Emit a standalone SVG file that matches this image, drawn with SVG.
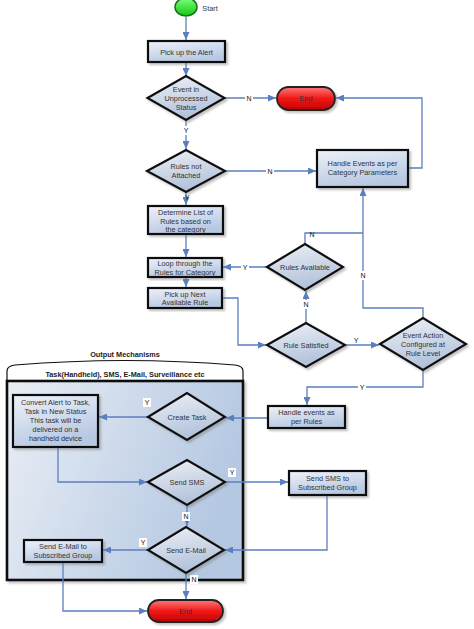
<svg xmlns="http://www.w3.org/2000/svg" width="474" height="629" viewBox="0 0 474 629">
<defs>
<linearGradient id="gBox" x1="0" y1="0" x2="0.4" y2="1">
<stop offset="0" stop-color="#eef2fa"/><stop offset="1" stop-color="#b7c8e2"/>
</linearGradient>
<linearGradient id="gDia" x1="0" y1="0" x2="0.3" y2="1">
<stop offset="0" stop-color="#eef1f7"/><stop offset="1" stop-color="#b2c2da"/>
</linearGradient>
<linearGradient id="gRed" x1="0" y1="0" x2="0" y2="1">
<stop offset="0" stop-color="#ff7a7a"/><stop offset="0.5" stop-color="#f01818"/><stop offset="1" stop-color="#c00000"/>
</linearGradient>
<linearGradient id="gGreen" x1="0" y1="0" x2="0" y2="1">
<stop offset="0" stop-color="#7dff7d"/><stop offset="1" stop-color="#12c812"/>
</linearGradient>
<linearGradient id="gCont" x1="0" y1="0" x2="1" y2="0.3">
<stop offset="0" stop-color="#e9eef5"/><stop offset="1" stop-color="#b5c8e2"/>
</linearGradient>
<filter id="sh" x="-20%" y="-20%" width="140%" height="140%">
<feDropShadow dx="2" dy="2" stdDeviation="1.2" flood-color="#777" flood-opacity="0.45"/>
</filter>
<marker id="ar" markerUnits="userSpaceOnUse" markerWidth="8" markerHeight="7" refX="8" refY="3.5" orient="auto">
<path d="M0,0 L8,3.5 L0,7 Z" fill="#5b7fbe"/>
</marker>
<style>
.box{fill:url(#gBox);stroke:#111;stroke-width:2.2;filter:url(#sh)}
.dia{fill:url(#gDia);stroke:#111;stroke-width:2.2;filter:url(#sh)}
.end{fill:url(#gRed);stroke:#222;stroke-width:1.8;filter:url(#sh)}
.t{font-family:"Liberation Sans",Arial,sans-serif;font-size:7.3px;fill:#333;text-anchor:middle}
.lb{font-family:"Liberation Sans",Arial,sans-serif;font-size:7px;fill:#111;text-anchor:middle}
.hd{font-family:"Liberation Sans",Arial,sans-serif;font-size:7.3px;font-weight:bold;fill:#222;text-anchor:middle}
.c{fill:none;stroke:#5b7fbe;stroke-width:1.3}
.ca{fill:none;stroke:#5b7fbe;stroke-width:1.3;marker-end:url(#ar)}
.lbg{fill:#fff}
</style>
</defs>
<rect width="474" height="629" fill="#fff"/>

<g id="output-mechanisms">
<text class="hd" x="125" y="357">Output Mechanisms</text>
<path d="M7,381 L7,371 Q7,366 15,365 Q125,356 235,365 Q243,366 243,371 L243,381 Z" fill="#fff" stroke="#111" stroke-width="1.2"/>
<text class="hd" x="125" y="377" font-size="7">Task(Handheld), SMS, E-Mail, Surveillance etc</text>
<rect x="7" y="381" width="236" height="199" fill="url(#gCont)" stroke="#111" stroke-width="2.6" filter="url(#sh)"/>
</g>

<g id="connectors">
<path class="ca" d="M186,17 L186,40"/>
<path class="ca" d="M186,62 L186,76"/>
<path class="ca" d="M224.5,98 L276,98"/>
<path class="ca" d="M186,120 L186,149"/>
<path class="ca" d="M225,171 L316,171"/>
<path class="ca" d="M408,168 L422,168 L422,98 L336,98"/>
<path class="ca" d="M186,192 L186,205"/>
<path class="ca" d="M186,234 L186,257"/>
<path class="ca" d="M186,277 L186,287"/>
<path class="ca" d="M267,267 L223,267"/>
<path class="c" d="M305,244 L305,233 L363,233"/>
<path class="ca" d="M423,318 L423,308 L363,308 L363,188"/>
<path class="ca" d="M222,298 L238,298 L238,345 L266,345"/>
<path class="ca" d="M306,323 L306,291"/>
<path class="ca" d="M345,345 L379,345"/>
<path class="ca" d="M423,370 L423,387 L307,387 L307,405"/>
<path class="ca" d="M268,418 L226,418"/>
<path class="ca" d="M148,417 L99,417"/>
<path class="ca" d="M58,447 L58,482 L147,482"/>
<path class="ca" d="M225,482 L288,482"/>
<path class="ca" d="M327,495 L327,550 L225,550"/>
<path class="ca" d="M187,505 L187,526"/>
<path class="ca" d="M148,550 L103,550"/>
<path class="ca" d="M63,562 L63,611 L147,611"/>
<path class="ca" d="M186,573 L186,599"/>
<rect class="lbg" x="245" y="93" width="8" height="9"/>
<text class="lb" x="249" y="100.5">N</text>
<rect class="lbg" x="182" y="126" width="8" height="9"/>
<text class="lb" x="186" y="133">Y</text>
<rect class="lbg" x="266" y="166" width="8" height="9"/>
<text class="lb" x="270" y="173.5">N</text>
<text class="lb" x="187" y="200">Y</text>
<rect class="lbg" x="241" y="263" width="8" height="9"/>
<text class="lb" x="245" y="270">Y</text>
<text class="lb" x="312" y="237">N</text>
<rect class="lbg" x="359" y="271" width="8" height="9"/>
<text class="lb" x="363" y="278">N</text>
<rect class="lbg" x="302" y="300" width="8" height="9"/>
<text class="lb" x="306" y="307">N</text>
<text class="lb" x="356" y="343">Y</text>
<rect class="lbg" x="358" y="383" width="8" height="9"/>
<text class="lb" x="362" y="390">Y</text>
<rect class="lbg" x="143" y="398" width="8" height="9"/>
<text class="lb" x="147" y="405">Y</text>
<rect class="lbg" x="228" y="468" width="8" height="9"/>
<text class="lb" x="232" y="475">Y</text>
<rect class="lbg" x="182" y="512" width="8" height="9"/>
<text class="lb" x="186" y="519">N</text>
<rect class="lbg" x="139" y="538" width="8" height="9"/>
<text class="lb" x="143" y="545">Y</text>
<rect class="lbg" x="190" y="575" width="8" height="9"/>
<text class="lb" x="194" y="582">N</text>
</g>

<g id="start">
<ellipse cx="186" cy="7" rx="11" ry="9" fill="url(#gGreen)" stroke="#1d6e1d" stroke-width="1.5"/>
<text class="t" x="210" y="10.5">Start</text>
</g>
<g id="pick-alert">
<rect class="box" x="148" y="41" width="77" height="21"/>
<text class="t" x="186.5" y="54.5">Pick up the Alert</text>
</g>
<g id="event-unprocessed">
<polygon class="dia" points="147.5,98 186,76 224.5,98 186,120"/>
<text class="t" x="186" y="92">Event in</text>
<text class="t" x="186" y="101">Unprocessed</text>
<text class="t" x="186" y="110">Status</text>
</g>
<g id="end-top">
<rect class="end" x="277" y="87" width="58" height="23" rx="11.5"/>
<text class="t" x="306" y="101" fill="#fdd">End</text>
</g>
<g id="rules-not-attached">
<polygon class="dia" points="147,171 186,150 225,171 186,192"/>
<text class="t" x="186" y="169">Rules not</text>
<text class="t" x="186" y="178">Attached</text>
</g>
<g id="handle-category">
<rect class="box" x="317" y="150" width="91" height="37"/>
<text class="t" x="362.5" y="166">Handle Events as per</text>
<text class="t" x="362.5" y="175">Category Parameters</text>
</g>
<g id="determine-list">
<rect class="box" x="148" y="206" width="75" height="28"/>
<text class="t" x="185.5" y="215">Determine List of</text>
<text class="t" x="185.5" y="223.5">Rules based on</text>
<text class="t" x="185.5" y="232">the category</text>
</g>
<g id="loop-rules">
<rect class="box" x="148" y="258" width="74" height="19"/>
<text class="t" x="185" y="266">Loop through the</text>
<text class="t" x="185" y="274.5">Rules for Category</text>
</g>
<g id="pick-next">
<rect class="box" x="148" y="288" width="74" height="20"/>
<text class="t" x="185" y="296.5">Pick up Next</text>
<text class="t" x="185" y="305">Available Rule</text>
</g>
<g id="rules-available">
<polygon class="dia" points="267,267 305,244 343,267 305,290"/>
<text class="t" x="305" y="270">Rules Available</text>
</g>
<g id="rule-satisfied">
<polygon class="dia" points="267,345 306,323 345,345 306,367"/>
<text class="t" x="306" y="348">Rule Satisfied</text>
</g>
<g id="event-action">
<polygon class="dia" points="380,344 423,318 466,344 423,370"/>
<text class="t" x="423" y="338">Event Action</text>
<text class="t" x="423" y="347">Configured at</text>
<text class="t" x="423" y="356">Rule Level</text>
</g>
<g id="handle-rules">
<rect class="box" x="268" y="406" width="77" height="22"/>
<text class="t" x="306.5" y="415">Handle events as</text>
<text class="t" x="306.5" y="424">per Rules</text>
</g>
<g id="create-task">
<polygon class="dia" points="148,417 187,393 225,417 187,440"/>
<text class="t" x="187" y="420">Create Task</text>
</g>
<g id="convert-alert">
<rect class="box" x="13" y="395" width="85" height="52"/>
<text class="t" x="55.5" y="405">Convert Alert to Task,</text>
<text class="t" x="55.5" y="414">Task in New Status</text>
<text class="t" x="55.5" y="423">This task will be</text>
<text class="t" x="55.5" y="432">delivered on a</text>
<text class="t" x="55.5" y="441">handheld device</text>
</g>
<g id="send-sms">
<polygon class="dia" points="148,482 187,460 225,482 187,505"/>
<text class="t" x="187" y="485">Send SMS</text>
</g>
<g id="sms-group">
<rect class="box" x="289" y="471" width="77" height="24"/>
<text class="t" x="327.5" y="480.5">Send SMS to</text>
<text class="t" x="327.5" y="490">Subscribed Group</text>
</g>
<g id="send-email">
<polygon class="dia" points="148,550 186,527 224,550 186,573"/>
<text class="t" x="186" y="553">Send E-Mail</text>
</g>
<g id="email-group">
<rect class="box" x="24" y="540" width="78" height="22"/>
<text class="t" x="63" y="549">Send E-Mail to</text>
<text class="t" x="63" y="558">Subscribed Group</text>
</g>
<g id="end-bottom">
<rect class="end" x="148" y="600" width="75" height="22" rx="11"/>
<text class="t" x="185.5" y="614" fill="#fdd">End</text>
</g>
</svg>
